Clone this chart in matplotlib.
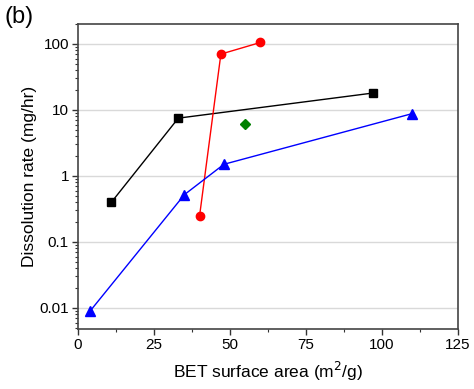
import matplotlib
matplotlib.use("Agg")
import matplotlib.pyplot as plt
from matplotlib.ticker import LogLocator, FixedLocator, NullFormatter

plt.rcParams["font.family"] = ["Liberation Sans", "DejaVu Sans"]

# data
black_x = [11, 33, 97]
black_y = [0.4, 7.5, 18]
red_x = [40, 47, 60]
red_y = [0.25, 70, 105]
green_x = [55]
green_y = [6.1]
blue_x = [4, 35, 48, 110]
blue_y = [0.009, 0.52, 1.5, 8.8]

x_ticks = [0, 25, 50, 75, 100, 125]
y_ticks = [0.01, 0.1, 1, 10, 100]
y_labels = ["0.01", "0.1", "1", "10", "100"]

fig = plt.figure(figsize=(4.74, 3.89), dpi=100)
ax = fig.add_axes([78 / 474, 1 - 329 / 389, 380 / 474, 305 / 389])

ax.plot(black_x, black_y, color="black", lw=1, marker="s", ms=5.5, zorder=3)
ax.plot(red_x, red_y, color="red", lw=1, marker="o", ms=6, zorder=3)
ax.plot(green_x, green_y, color="green", lw=1, marker="D", ms=5, zorder=3)
ax.plot(blue_x, blue_y, color="blue", lw=1, marker="^", ms=6.5, zorder=3)

ax.set_yscale("log")
ax.set_xlim(0, 125)
ax.set_ylim(0.0048, 200)
ax.set_xticks(x_ticks)
ax.xaxis.set_minor_locator(FixedLocator([12.5, 37.5, 62.5, 87.5, 112.5]))
ax.set_yticks(y_ticks)
ax.set_yticklabels(y_labels)
ax.yaxis.set_minor_locator(LogLocator(base=10, subs=range(2, 10)))
ax.yaxis.set_minor_formatter(NullFormatter())

ax.grid(True, which="major", axis="y", color="#d9d9d9", lw=1)
ax.set_axisbelow(True)

ax.tick_params(axis="both", which="major", direction="out", length=4, width=1,
               labelsize=11, colors="#333333", labelcolor="black", pad=2.5)
ax.tick_params(axis="both", which="minor", direction="out", length=2, width=0.8,
               colors="#333333")
for s in ax.spines.values():
    s.set_color("#444444")
    s.set_linewidth(1.2)

ax.set_xlabel("BET surface area (m$^2$/g)", fontsize=12.5, labelpad=6)
ax.set_ylabel("Dissolution rate (mg/hr)", fontsize=12.5, labelpad=2)

fig.text(4 / 474, 1 - 17 / 389, "(b)", fontsize=17, va="center", ha="left")

fig.savefig("out.png", dpi=100)
